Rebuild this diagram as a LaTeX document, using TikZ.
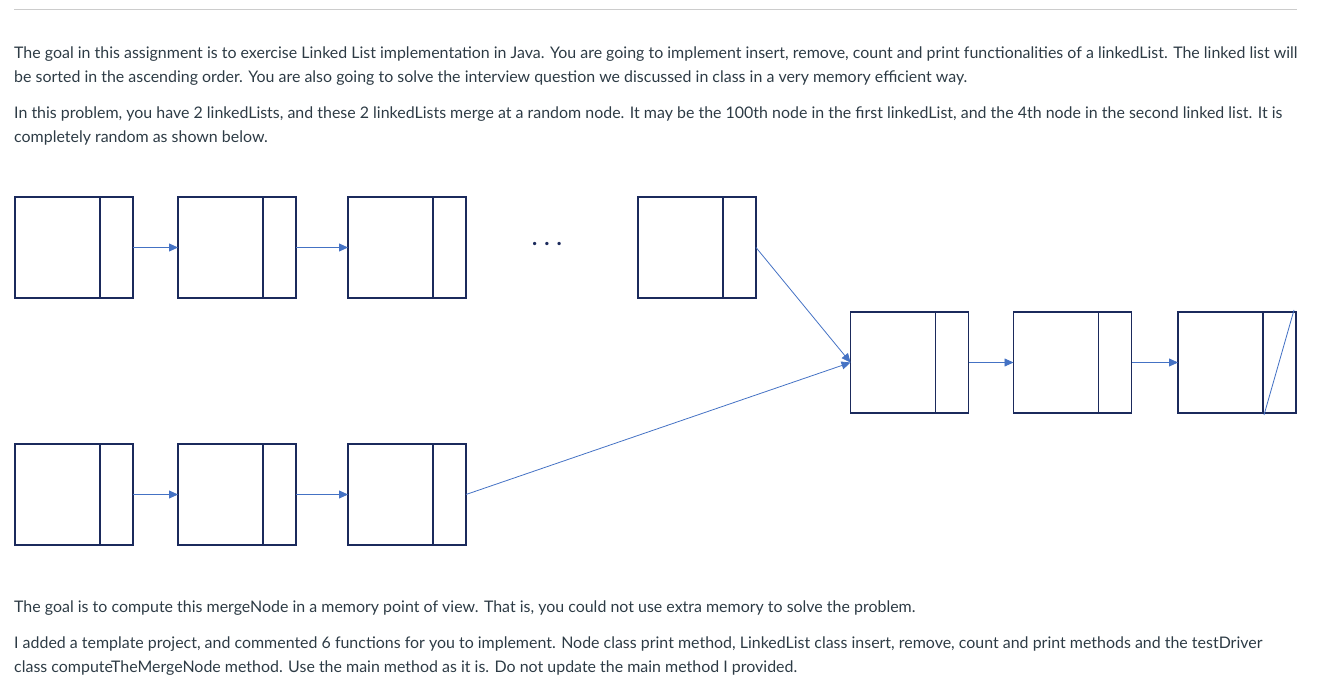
\documentclass[tikz,border=0pt]{standalone}
\usepackage{fontspec}
\setmainfont{Lato}
\usetikzlibrary{arrows.meta}
\definecolor{boxc}{HTML}{1B2A5C}
\definecolor{arr}{HTML}{4472C4}
\definecolor{txt}{HTML}{2D3B45}
\begin{document}
\begin{tikzpicture}[x=1pt,y=-1pt,
  cell/.style={draw=boxc,line width=1.5pt,minimum width=118pt,minimum height=101pt,inner sep=0pt,outer sep=0pt},
  link/.style={draw=arr,line width=0.8pt,-{Triangle[length=9pt,width=8pt]}},
  txtline/.style={anchor=base west,inner sep=0pt,text=txt,font=\fontsize{15.95}{19}\selectfont}]
\useasboundingbox (0,0) rectangle (1326,690);
\draw[gray!40,line width=1pt] (14,10) -- (1297,10);
\node[txtline] (t1) at (14,59) {The goal in this assignment is to exercise Linked List implementation in Java. You are going to implement insert, remove, count and print functionalities of a linkedList. The linked list will};
\node[txtline] (t2) at (14,83) {be sorted in the ascending order. You are also going to solve the interview question we discussed in class in a very memory efficient way.};
\node[txtline] (t3) at (14,119) {In this problem, you have 2 linkedLists, and these 2 linkedLists merge at a random node. It may be the 100th node in the first linkedList, and the 4th node in the second linked list. It is};
\node[txtline] (t4) at (14,143) {completely random as shown below.};
\node[txtline] (t5) at (14,612) {The goal is to compute this mergeNode in a memory point of view. That is, you could not use extra memory to solve the problem.};
\node[txtline] (t6) at (14,648) {I added a template project, and commented 6 functions for you to implement. Node class print method, LinkedList class insert, remove, count and print methods and the testDriver};
\node[txtline] (t7) at (14,672) {class computeTheMergeNode method. Use the main method as it is. Do not update the main method I provided.};
% row 1
\node[cell] (a1) at (74,247.5) {};
\node[cell] (a2) at (237,247.5) {};
\node[cell] (a3) at (407,247.5) {};
\node[cell] (a4) at (697,247.5) {};
\node[text=boxc,font=\fontsize{22}{22}\selectfont\bfseries] (dots) at (547,244) {.\hspace{7pt}.\hspace{7pt}.};
% merged row
\node[cell] (m1) at (909.5,362.5) {};
\node[cell] (m2) at (1072.5,362.5) {};
\node[cell] (m3) at (1237,362.5) {};
% row 2
\node[cell] (c1) at (74,494.5) {};
\node[cell] (c2) at (237,494.5) {};
\node[cell] (c3) at (407,494.5) {};
% dividers
\foreach \n in {a1,a2,a3,a4,m1,m2,m3,c1,c2,c3}
  \draw[boxc,line width=1.5pt] ([xshift=-33pt]\n.north east) -- ([xshift=-33pt]\n.south east);
\draw[arr,line width=0.8pt] ([xshift=-32pt,yshift=-2pt]m3.south east) -- ([xshift=-2pt,yshift=2pt]m3.north east);
% links
\draw[link] (a1.east) -- (a2.west);
\draw[link] (a2.east) -- (a3.west);
\draw[link] (c1.east) -- (c2.west);
\draw[link] (c2.east) -- (c3.west);
\draw[link] (m1.east) -- (m2.west);
\draw[link] (m2.east) -- (m3.west);
\draw[link] (a4.east) -- (m1.west);
\draw[link] (c3.east) -- (m1.west);
\end{tikzpicture}
\end{document}
